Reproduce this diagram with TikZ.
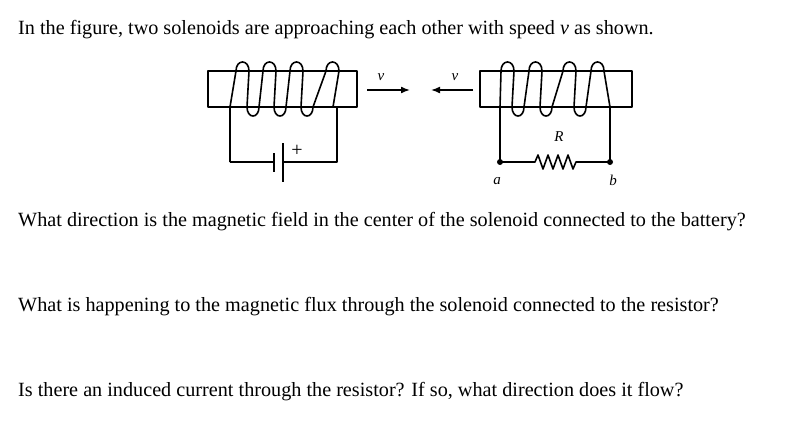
\documentclass[tikz,border=0pt]{standalone}
\usetikzlibrary{arrows.meta}
\usepackage{fontspec}
\setmainfont{Liberation Serif}
\begin{document}
\begin{tikzpicture}[x=1pt,y=-1pt,
  wire/.style={line width=1.6pt,line join=round},
  qtext/.style={anchor=base west,inner sep=0pt,font=\fontsize{20.2}{24}\selectfont},
  lbl/.style={inner sep=0pt,font=\fontsize{15}{15}\selectfont\itshape}]
\useasboundingbox[fill=white] (0,0) rectangle (802,428);
\node[qtext] (t1) at (18,35) {In the figure, two solenoids are approaching each other with speed \textit{v} as shown.};
\node[qtext] (q1) at (18,226) {What direction is the magnetic field in the center of the solenoid connected to the battery?};
\node[qtext] (q2) at (18,311) {What is happening to the magnetic flux through the solenoid connected to the resistor?};
\node[qtext] (q3) at (18,396) {Is there an induced current through the resistor? If so, what direction does it flow?};
% left solenoid
\node[draw,wire,minimum width=149pt,minimum height=36pt,inner sep=0pt] (L) at (282.5,89) {};
\draw[wire] (230,162) -- (230,107) -- (236,71) .. controls (236,59) and (249,59) .. (249,71) -- (247,107)
  .. controls (247,119) and (259,119) .. (259,107) -- (263,71) .. controls (263,59) and (276,59) .. (276,71) -- (274,107)
  .. controls (274,119) and (286,119) .. (286,107) -- (290,71) .. controls (290,59) and (303,59) .. (303,71) -- (301,107)
  .. controls (301,119) and (313,119) .. (313,107) -- (326,71) .. controls (326,59) and (339,59) .. (339,71) -- (333,107);
\coordinate (bl) at (230,162);
\coordinate (br) at (337,162);
\draw[wire] (337,107) -- (br) -- (283,162);
\draw[wire] (bl) -- (274,162);
\draw[wire] (274,153) -- (274,172);
\draw[wire] (283,143) -- (283,182);
\node[inner sep=0pt,font=\fontsize{20}{20}\selectfont] (plus) at (297,151) {+};
% arrows
\coordinate (a1s) at (367,90); \coordinate (a1e) at (410,90);
\coordinate (a2s) at (473,90); \coordinate (a2e) at (431,90);
\draw[wire,-{Latex[length=9pt,width=7pt]}] (a1s) -- (a1e);
\draw[wire,-{Latex[length=9pt,width=7pt]}] (a2s) -- (a2e);
\node[lbl] (v1) at (381,77) {v};
\node[lbl] (v2) at (455,77) {v};
% right solenoid
\node[draw,wire,minimum width=152pt,minimum height=36pt,inner sep=0pt] (Rr) at (556,89) {};
\coordinate (pa) at (500,162);
\coordinate (pb) at (610,162);
\draw[wire] (pa) -- (500,107) -- (501,71) .. controls (501,59) and (514,59) .. (514,71) -- (512,107)
  .. controls (512,119) and (524,119) .. (524,107) -- (529,71) .. controls (529,59) and (542,59) .. (542,71) -- (540,107)
  .. controls (540,119) and (552,119) .. (552,107) -- (563,71) .. controls (563,59) and (576,59) .. (576,71) -- (574,107)
  .. controls (574,119) and (586,119) .. (586,107) -- (591,71) .. controls (591,59) and (604,59) .. (604,71) -- (610,107) -- (pb);
\fill (pa) circle (3pt);
\fill (pb) circle (3pt);
\draw[wire] (pa) -- (535,162) -- (538,155) -- (543,169) -- (548,155) -- (553,169) -- (558,155) -- (563,169) -- (568,155) -- (573,169) -- (576,162) -- (pb);
\node[lbl] (R) at (559,137) {R};
\node[lbl] (la) at (497,181) {a};
\node[lbl] (lb) at (613,180) {b};
\end{tikzpicture}
\end{document}
